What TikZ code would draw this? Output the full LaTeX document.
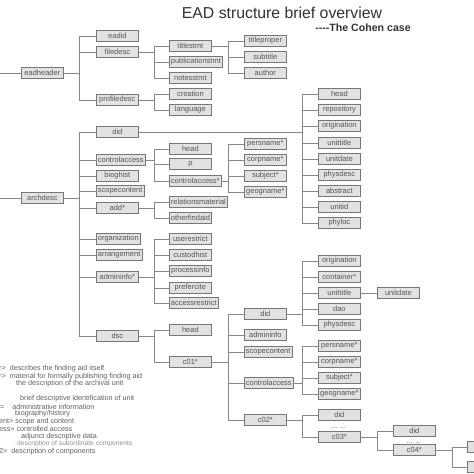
\documentclass[tikz,border=0pt]{standalone}
\usepackage{fontspec}
\setmainfont{Liberation Sans}
\definecolor{boxfill}{HTML}{E2E2E2}
\definecolor{boxdraw}{HTML}{777777}
\definecolor{boxtext}{HTML}{555555}
\definecolor{linecol}{HTML}{888888}
\definecolor{legtext}{HTML}{606060}
\definecolor{titletext}{HTML}{333333}
\tikzset{
  bx/.style={draw=boxdraw, fill=boxfill, line width=0.7pt,
    font=\fontsize{7.5}{8}\selectfont, text=boxtext,
    minimum width=42pt, minimum height=10.5pt, inner xsep=1.5pt, inner ysep=0pt,
    anchor=west},
  conn/.style={draw=linecol, line width=0.7pt},
  leg/.style={font=\fontsize{7.2}{8}\selectfont, text=legtext, anchor=west, inner sep=0pt},
  dots/.style={font=\fontsize{7}{8}\selectfont, text=boxtext, inner sep=0pt}
}
\newcommand\brk[3]{\foreach \c in {#3}{\draw[conn] (#1.east) -- (#1.east -| #2,0) |- (\c.west);}}
\begin{document}
\begin{tikzpicture}[x=1pt,y=-1pt]
\useasboundingbox (0,0) rectangle (474,474);
\fill[white] (0,0) rectangle (474,474);
% title
\node[font=\fontsize{15.8}{18}\selectfont, text=titletext, inner sep=0pt] (title) at (282,13) {EAD structure brief overview};
\node[font=\bfseries\fontsize{10.6}{12}\selectfont, text=titletext, inner sep=0pt] (subtitle) at (363,28) {-{}-{}-{}-The Cohen case};
% column A
\node[bx] (eadheader) at (21,73) {eadheader};
\node[bx] (archdesc) at (21,198) {archdesc};
\coordinate (in1) at (0,73);
\coordinate (in2) at (0,198);
\draw[conn] (in1) -- (eadheader.west);
\draw[conn] (in2) -- (archdesc.west);
% column B
\node[bx] (eadid) at (96,36) {eadid};
\node[bx] (filedesc) at (96,52) {filedesc};
\node[bx] (profiledesc) at (96,100) {profiledesc};
\node[bx] (did) at (96,132) {did};
\node[bx] (ca) at (96,160) {controlaccess};
\node[bx] (bioghist) at (96,176) {bioghist};
\node[bx] (scope) at (96,191) {scopecontent};
\node[bx] (add) at (96,208) {add*};
\node[bx] (organization) at (96,239) {organization};
\node[bx] (arrangement) at (96,255) {arrangement};
\node[bx] (admininfo) at (96,277) {admininfo*};
\node[bx] (dsc) at (96,336) {dsc};
% column C
\node[bx] (titlestmt) at (169,46) {titlestmt};
\node[bx] (publicationstmt) at (169,62) {publicationstmt};
\node[bx] (notesstmt) at (169,78) {notesstmt};
\node[bx] (creation) at (169,94) {creation};
\node[bx] (language) at (169,110) {language};
\node[bx] (cahead) at (169,149) {head};
\node[bx] (cap) at (169,164) {p};
\node[bx] (castar) at (169,181) {controlaccess*};
\node[bx] (relmat) at (169,202) {relationsmaterial};
\node[bx] (otherfindaid) at (169,218) {otherfindaid};
\node[bx] (userestrict) at (169,239) {userestrict};
\node[bx] (custodhist) at (169,255) {custodhist};
\node[bx] (processinfo) at (169,271) {processinfo};
\node[bx] (prefercite) at (169,288) {prefercite};
\node[bx] (accessrestrict) at (169,303) {accessrestrict};
\node[bx] (dschead) at (169,330) {head};
\node[bx] (c01) at (169,362) {c01*};
% column D
\node[bx] (titleproper) at (244,41) {titleproper};
\node[bx] (subtitlebox) at (244,57) {subtitle};
\node[bx] (author) at (244,73) {author};
\node[bx] (persname) at (244,144) {persname*};
\node[bx] (corpname) at (244,160) {corpname*};
\node[bx] (subject) at (244,176) {subject*};
\node[bx] (geogname) at (244,192) {geogname*};
\node[bx] (c1did) at (244,314) {did};
\node[bx] (c1admin) at (244,335) {admininfo};
\node[bx] (c1scope) at (244,352) {scopecontent};
\node[bx] (c1ca) at (244,383) {controlaccess};
\node[bx] (c02) at (244,420) {c02*};
% column F
\node[bx] (head) at (318,94) {head};
\node[bx] (repository) at (318,110) {repository};
\node[bx] (origination) at (318,126) {origination};
\node[bx] (unittitle) at (318,143) {unittitle};
\node[bx] (unitdate) at (318,159) {unitdate};
\node[bx] (physdesc) at (318,175) {physdesc};
\node[bx] (abstract) at (318,191) {abstract};
\node[bx] (unitid) at (318,207) {unitid};
\node[bx] (phyloc) at (318,223) {phyloc};
\node[bx] (c1orig) at (318,261) {origination};
\node[bx] (c1cont) at (318,277) {container*};
\node[bx] (c1title) at (318,293) {unittitle};
\node[bx] (c1dao) at (318,309) {dao};
\node[bx] (c1phys) at (318,325) {physdesc};
\node[bx] (c1pers) at (318,346) {persname*};
\node[bx] (c1corp) at (318,362) {corpname*};
\node[bx] (c1subj) at (318,378) {subject*};
\node[bx] (c1geog) at (318,394) {geogname*};
\node[bx] (c2did) at (318,415) {did};
\node[bx] (c03) at (318,437) {c03*};
\node[dots] (dots1) at (339,428) {... ...};
% further right
\node[bx] (c1date) at (377,293) {unitdate};
\node[bx] (c3did) at (393,431) {did};
\node[bx] (c04) at (393,450) {c04*};
\node[dots] (dots2) at (414,443) {... ...};
\node[bx] (c4a) at (467,447) {};
\node[bx] (c4b) at (467,467) {};
% connectors
\brk{eadheader}{79}{eadid,filedesc,profiledesc}
\brk{filedesc}{154}{titlestmt,publicationstmt,notesstmt}
\brk{profiledesc}{154}{creation,language}
\brk{titlestmt}{228}{titleproper,subtitlebox,author}
\brk{archdesc}{79}{did,ca,bioghist,scope,add,organization,arrangement,admininfo,dsc}
\brk{did}{302}{head,repository,origination,unittitle,unitdate,physdesc,abstract,unitid,phyloc}
\brk{ca}{154}{cahead,cap,castar}
\brk{castar}{228}{persname,corpname,subject,geogname}
\brk{add}{154}{relmat,otherfindaid}
\brk{admininfo}{154}{userestrict,custodhist,processinfo,prefercite,accessrestrict}
\brk{dsc}{154}{dschead,c01}
\brk{c01}{228}{c1did,c1admin,c1scope,c1ca,c02}
\brk{c1did}{302}{c1orig,c1cont,c1title,c1dao,c1phys}
\draw[conn] (c1title.east) -- (c1date.west);
\brk{c1ca}{302}{c1pers,c1corp,c1subj,c1geog}
\brk{c02}{302}{c2did,c03}
\brk{c03}{377}{c3did,c04}
\brk{c04}{452}{c4a,c4b}
% legend
\node[leg] (l1) at (-1,369) {r>\ \ describes the finding aid itself};
\node[leg] (l2) at (-1,376.5) {r>\ \ material for formally publishing finding aid};
\node[leg] (l3) at (16,384) {the description of the archival unit};
\node[leg] (l5) at (20,399) {brief descriptive identification of unit};
\node[leg] (l6) at (0,406.5) {=\hspace{8pt}administrative information};
\node[leg] (l7) at (15,414) {biography/history};
\node[leg] (l8) at (-1,421.5) {ent> scope and content};
\node[leg] (l9) at (-1,429) {ess> controlled access};
\node[leg] (l10) at (21,436.5) {adjunct descriptive data};
\node[leg, font=\fontsize{6.7}{8}\selectfont, text=legtext!70] (l11) at (17,444) {description of subordinate components};
\node[leg] (l12) at (-1,451.5) {2>\ \ description of components};
\end{tikzpicture}
\end{document}
